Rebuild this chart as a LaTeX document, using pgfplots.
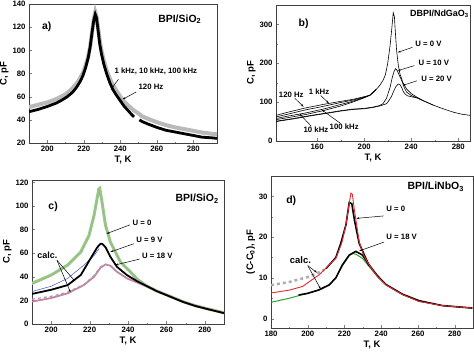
\documentclass[border=0pt]{standalone}
\usepackage{fontspec}
\setmainfont{Liberation Sans}
\usepackage{pgfplots}
\pgfplotsset{compat=1.18}
\usetikzlibrary{arrows.meta}
\definecolor{cgreen}{RGB}{150,205,130}
\definecolor{cpink}{RGB}{200,130,165}
\definecolor{cblue}{RGB}{60,80,200}
\definecolor{cred}{RGB}{230,40,50}
\definecolor{dgreen}{RGB}{50,160,50}
\pgfplotsset{
  panel/.style={scale only axis, tick align=inside, xtick pos=bottom, ytick pos=left,
    /pgf/number format/assume math mode=true,
    ticklabel style={font=\fontsize{7.8}{8}\selectfont\bfseries},
    label style={font=\fontsize{9.5}{10}\selectfont\bfseries},
    xlabel={T, K}, clip=true, axis line style={line width=0.6pt, black!75},
    major tick length=3pt, minor tick length=1.5pt,
    xlabel style={yshift=3pt}, ylabel style={yshift=-3pt},
    unbounded coords=jump},
}
\tikzset{
  ann/.style={font=\fontsize{7.8}{8}\selectfont\bfseries, inner sep=0.5pt},
  arr/.style={-{Stealth[length=3pt,width=2pt]}, line width=0.5pt},
}
\begin{document}
\begin{tikzpicture}[x=1bp,y=1bp]
\path[use as bounding box] (0,0) rectangle (474,353);
% ---------------- a)
\begin{axis}[panel, at={(29bp,210bp)}, width=188bp, height=139bp,
  xmin=190, xmax=293, ymin=20, ymax=140, xtick={200,220,...,280}, minor x tick num=1,
  ytick={20,40,...,140}, minor y tick num=1, ylabel={C, pF}]
\addplot[gray!55, line width=4pt] coordinates {(190,51)(195,53)(200,55)(205,58)(210,62)(213,66)(216,71)(218,76)(220,82)(222,92)(223.5,103)(224.5,115)(225.5,127)(226.3,133)(227,129)(227.8,120)(228.8,108)(229.7,100)(231,91)(232.5,83)(234.3,75.5)(236,70)(238,65)(240,60)(242,56)(244,53)(246,50)(248,47.5)(250,45.5)(252,43)(255,41)(260,38)(265,35.5)(270,33.5)(275,32)(280,30.5)(285,29)(290,28)(293,27.5)};
\addplot[black, line width=2.8pt] coordinates {(190,47)(195,49)(200,51.5)(205,54.5)(208,57)(211,60)(214,64)(216,68)(218,73)(219.5,78)(221,85)(222.5,94)(223.5,103)(224.5,115)(225.5,126)(226.3,131)(227,128)(227.8,118)(228.8,105)(229.7,97)(231,88)(232.5,80)(234.3,72)(236,66)(238,61)(240,56.5)(242,52)(244,48.5)(246,45)(247.5,42.5)(248.5,nan)(250.5,40)(252,38.5)(255,36.5)(260,33.5)(265,31)(270,29.5)(275,28)(280,26.5)(285,25)(290,24.5)(293,24)};
\node[font=\fontsize{10.5}{11}\selectfont\bfseries] at (axis cs:272.6,127) {BPI/SiO$_\mathbf{2}$};
\node[font=\fontsize{10.5}{11}\selectfont\bfseries] at (axis cs:199.7,120) {a)};
\node[ann, anchor=west] at (axis cs:236.5,82) {1 kHz, 10 kHz, 100 kHz};
\node[ann, anchor=west] at (axis cs:249.7,68.6) {120 Hz};
\draw[arr] (axis cs:239,75) -- (axis cs:234.8,66);
\draw[arr] (axis cs:248.7,64) -- (axis cs:241.3,57.7);
\end{axis}
% ---------------- b)
\begin{axis}[panel, at={(276bp,212bp)}, width=194bp, height=136bp,
  xmin=125, xmax=290, ymin=0, ymax=350, xtick={160,200,240,280}, minor x tick num=1,
  ytick={0,100,200,300}, minor y tick num=1, ylabel={C, pF}]
\addplot[black, line width=0.6pt] coordinates {(125,66)(135,74)(150,85)(165,94)(180,102)(190,107)(200,114)(205,118)(210,132)(213,142)(216,156)(218,170)(220,200)(222,245)(223.5,290)(224.7,330)(225.7,320)(226.5,280)(227.6,232)(229,195)(230.4,173)(233,150)(236,134)(240,122)(244.7,113)(250,104)(259,92)(268,82)(276,74)(283,69)(290,66)};
\addplot[black, line width=0.6pt] coordinates {(125,62)(135,69)(150,80)(165,89)(180,99)(190,105)(200,113)(205,118)(210,132)};
\addplot[black, line width=0.6pt] coordinates {(125,58)(135,64)(150,72)(165,82)(180,94)(190,102)(200,112)(205,118)(210,132)};
\addplot[black, line width=0.6pt] coordinates {(125,55)(135,60)(150,68)(165,78)(180,90)(190,100)(200,111)(205,118)(210,132)};
\addplot[black, line width=0.6pt] coordinates {(125,51)(140,58)(155,66)(170,73)(180,78)(190,82)(200,84)(207,87)(213,91)(216,96)(219,110)(222,138)(224,165)(225.5,180)(226.7,186)(228,182)(230,168)(232,155)(234,138)(236,126)(240,117)(245,111)(250,104)(259,92)};
\addplot[black, line width=0.6pt] coordinates {(125,50)(140,57)(155,65)(170,72)(180,77)(190,81)(200,83)(207,86)(213,90)(216,93)(219,96)(221,104)(223.3,115)(225,128)(227,140)(229,147)(230.5,145)(232,137)(233.3,127)(235,120)(237,116)(240,114)(245,111)(250,104)};
\node[font=\fontsize{9}{10}\selectfont\bfseries] at (axis cs:264,327) {DBPI/NdGaO$_\mathbf{3}$};
\node[font=\fontsize{10.5}{11}\selectfont\bfseries] at (axis cs:148.5,301) {b)};
\node[ann, anchor=west] at (axis cs:243,250) {U = 0 V};
\node[ann, anchor=west] at (axis cs:245.6,202) {U = 10 V};
\node[ann, anchor=west] at (axis cs:248,160) {U = 20 V};
\draw[arr] (axis cs:241,241) -- (axis cs:228.5,228);
\draw[arr] (axis cs:242.7,194) -- (axis cs:228.5,181);
\draw[arr] (axis cs:245,155) -- (axis cs:232.7,143);
\node[ann] at (axis cs:138,119) {120 Hz};
\node[ann] at (axis cs:161.6,126) {1 kHz};
\node[ann] at (axis cs:159,29) {10 kHz};
\node[ann] at (axis cs:183,36) {100 kHz};
\draw[arr] (axis cs:141,110) -- (axis cs:148.5,88);
\draw[arr] (axis cs:163,117) -- (axis cs:170,97);
\draw[arr] (axis cs:155,38) -- (axis cs:145,70);
\draw[arr] (axis cs:180,45) -- (axis cs:164,80);
\end{axis}
% ---------------- c)
\begin{axis}[panel, at={(32bp,29bp)}, width=192bp, height=144bp,
  xmin=190, xmax=290, ymin=0, ymax=122, xtick={200,220,...,280}, minor x tick num=1,
  ytick={0,20,...,120}, minor y tick num=1, ylabel={C, pF}]
\addplot[cgreen, line width=3pt] coordinates {(190,34.5)(200,41.5)(208.6,50)(215.4,61)(219.7,75)(222.3,92)(224.8,114.4)(225.3,115)(226.5,103)(228.3,83.5)(230.8,69.5)(236,52.7)(242.8,41.5)(245,37.5)(250,32)(255,28)(260,24.7)(268.5,19)(275,15.5)(280,13.5)(290,9.5)};
\addplot[gray!70, line width=1pt, densely dotted] coordinates {(190,33.5)(200,41)(208.6,50)(215.4,61)(219.7,75)(222.3,92)(224.8,113.5)(226.5,103)(228.3,83.5)(230.8,69.5)(236,52.7)(242.8,41.5)(250,32)(260,24.7)(268.5,19)(280,13.5)(290,9.5)};
\addplot[cpink, line width=1.8pt] coordinates {(190,19)(200,22)(208.6,26)(217,33)(222.3,40)(225.7,47.7)(228.3,50.5)(230.8,49.4)(234.2,44.3)(239.4,38.7)(245,35)(250,31.5)(255,27.8)(260,24.7)(268.5,19)(275,15.5)(280,13.3)(290,9.3)};
\addplot[gray!75, line width=1.2pt, dashed] coordinates {(190,21)(200,23.5)(208.6,27)(217,33.5)(222.3,41)(225.7,48.5)(228.3,50.5)(230.8,49.5)(234.2,44.5)(239.4,39)};
\addplot[cblue, line width=0.5pt] coordinates {(190,27.5)(200,32)(208.6,38.7)(217.1,50)(222.3,58)(225,64)};
\addplot[black, line width=1.8pt] coordinates {(190,25.5)(200,29)(208.6,33)(215.4,41.5)(220.5,55.5)(224,65)(225.7,68)(226.5,68)(228.3,65)(230.8,57)(234.2,48.5)(239.4,41.5)(245,36)(250,32)(255,27.8)(260,24.5)(268.5,18.8)(275,15.3)(280,13.2)(290,9.2)};
\node[font=\fontsize{10.5}{11}\selectfont\bfseries] at (axis cs:276,106) {BPI/SiO$_\mathbf{2}$};
\node[font=\fontsize{10.5}{11}\selectfont\bfseries] at (axis cs:201,99) {c)};
\node[ann, anchor=west] at (axis cs:242,86) {U = 0};
\node[ann, anchor=west] at (axis cs:244,71) {U = 9 V};
\node[ann, anchor=west] at (axis cs:247,58) {U = 18 V};
\draw[arr] (axis cs:241,84) -- (axis cs:228.8,76.5);
\draw[arr] (axis cs:243,68) -- (axis cs:230.8,61);
\draw[arr] (axis cs:246,55) -- (axis cs:233.4,50);
\node[font=\fontsize{9}{10}\selectfont\bfseries] at (axis cs:198,58) {calc.};
\draw[arr] (axis cs:203,54) -- (axis cs:212.5,36);
\draw[arr] (axis cs:203,54) -- (axis cs:210,27);
\end{axis}
% ---------------- d)
\begin{axis}[panel, at={(271bp,25bp)}, width=202bp, height=152bp,
  xmin=180, xmax=290, ymin=-2.3, ymax=35, xtick={180,200,...,280}, minor x tick num=1,
  ytick={0,10,20,30}, minor y tick num=1, ylabel={(C-C$_\mathbf{0}$), pF}]
\addplot[gray!65, line width=2.5pt, dashed] coordinates {(180,8.2)(190,9)(200,10.2)(205,11.1)(209,12)};
\addplot[dgreen, line width=1pt] coordinates {(180,4)(190,5)(197.2,5.9)(206.3,7)(211.7,8.2)(215.3,10)(218.9,13)(222.6,15.5)(224.5,16)(226.2,15.8)(229.8,14.8)(233.4,12.8)(238,10.3)(242.5,8.3)(251.6,5.9)(260.6,4.3)(273.3,3.2)(289.6,2.6)};
\addplot[black, line width=1.6pt] coordinates {(195,5.8)(200,6.2)(206.3,7.1)(211.7,8.3)(215.3,10)(218.9,13.2)(222.6,15.6)(226.2,16.5)(229.8,15.6)(233.4,13.2)(238,10.5)(242.5,8.4)(251.6,6)(260.6,4.4)(273.3,3.2)(289.6,2.6)};
\addplot[black, line width=1.6pt] coordinates {(210,12.3)(215.3,15)(218,18.5)(220.8,23)(222.6,28.5)(224,28.2)(225.5,24)(228,18.5)(233.4,13)};
\addplot[cred, line width=0.9pt] coordinates {(180,6.3)(190,7)(197.2,7.9)(206.3,10.8)(215.3,14.8)(218.5,18.5)(220.8,23)(222.5,28)(223.5,30.8)(224.3,30.5)(225.3,27)(228,18.9)(230.5,15.5)(233.4,13.2)(238,10.3)(242.5,8.3)(251.6,5.9)(260.6,4.2)(273.3,3.2)(289.6,2.6)};
\node[font=\fontsize{10.5}{11}\selectfont\bfseries] at (axis cs:269.7,32.3) {BPI/LiNbO$_\mathbf{3}$};
\node[font=\fontsize{10.5}{11}\selectfont\bfseries] at (axis cs:191,29) {d)};
\node[ann, anchor=west] at (axis cs:242.5,27) {U = 0};
\node[ann, anchor=west] at (axis cs:242.5,20) {U = 18 V};
\draw[arr] (axis cs:241.3,25.2) -- (axis cs:226.5,24.6);
\draw[arr] (axis cs:241.6,18.8) -- (axis cs:228,16.6);
\node[font=\fontsize{9.5}{10}\selectfont\bfseries] at (axis cs:196,14.4) {calc.};
\draw[arr] (axis cs:200,13) -- (axis cs:205,11.3);
\draw[arr] (axis cs:200,13) -- (axis cs:207,7.3);
\end{axis}
\end{tikzpicture}
\end{document}
